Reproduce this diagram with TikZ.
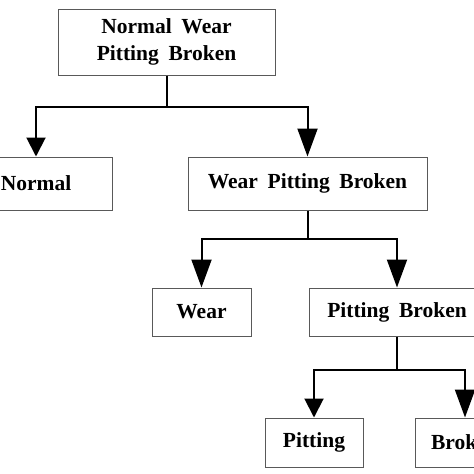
\documentclass[tikz,border=0pt]{standalone}
\usepackage{fontspec}
\setmainfont{Liberation Serif}
\usetikzlibrary{arrows.meta, positioning}
\newcommand{\wgap}{\hspace{0.45em}}
\tikzset{
    boxN/.style={draw=black!65, line width=1pt, fill=white, inner sep=0pt, align=center,
        font=\fontsize{21.5}{26.3}\selectfont\bfseries},
    bareL/.style={line width=2pt, black},
    headS/.style={bareL, -{Triangle[length=19pt, width=19pt]}},
    headL/.style={bareL, -{Triangle[length=28pt, width=20pt]}}
}

\begin{document}
\begin{tikzpicture}[x=1pt, y=-1pt]
    \useasboundingbox (0,0) rectangle (474,474);
    \clip (0,0) rectangle (474,474);
    % level 0
    \node[boxN, minimum width=217pt, minimum height=66pt] (all) at (166.5,42) {Normal\wgap Wear\\Pitting\wgap Broken};
    % level 1
    \node[boxN, minimum width=152pt, minimum height=53pt] (normal) at (36,183.5) {Normal};
    \node[boxN, minimum width=239pt, minimum height=53pt] (wpb) at (307.5,183.5) {Wear\wgap Pitting\wgap Broken};
    % level 2
    \node[boxN, minimum width=99pt, minimum height=48pt] (wear) at (201.5,312) {Wear};
    \node[boxN, minimum width=176pt, minimum height=48pt] (pb) at (397,312) {Pitting\wgap Broken};
    % level 3
    \node[boxN, minimum width=98pt, minimum height=49pt] (pitting) at (314,442.5) {Pitting};
    \node[boxN, minimum width=100pt, minimum height=49pt] (broken) at (465,442.5) {Broken};
    \coordinate (j1) at (166.5,107);
    \coordinate (j2) at (307.5,239);
    \coordinate (j3) at (397,370);
    \draw[bareL] (all.south) -- (j1);
    \draw[headS] (j1) -| (normal.north);
    \draw[headL] (j1) -| (wpb.north);
    \draw[bareL] (wpb.south) -- (j2);
    \draw[headL] (j2) -| (wear.north);
    \draw[headL] (j2) -| (pb.north);
    \draw[bareL] (pb.south) -- (j3);
    \draw[headS] (j3) -| (pitting.north);
    \draw[headL] (j3) -| (broken.north);
\end{tikzpicture}
\end{document}
